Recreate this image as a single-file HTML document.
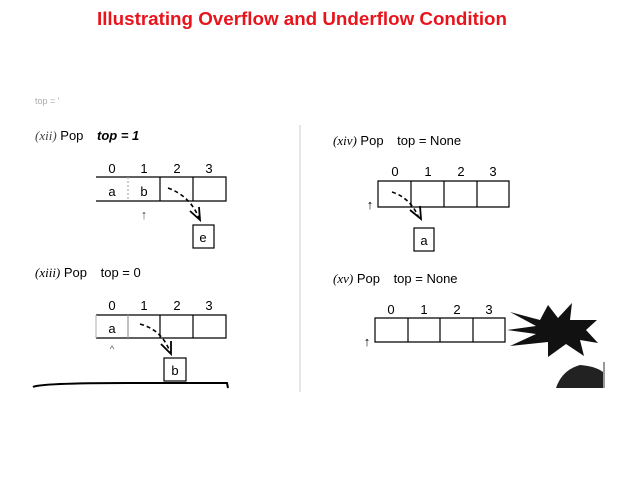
<!DOCTYPE html>
<html><head><style>
body{margin:0;background:#fff;}
svg{display:block;}
text{font-family:"Liberation Sans",sans-serif;}
.s{font-family:"Liberation Serif",serif;font-size:13px;}
.l{font-size:13px;}
</style></head><body>
<svg width="638" height="478" viewBox="0 0 638 478">
<text x="97" y="25" textLength="410" lengthAdjust="spacingAndGlyphs" fill="#e8141c" font-weight="bold" font-size="18">Illustrating Overflow and Underflow Condition</text>
<text x="35" y="104" font-size="9" fill="#aaa">top = '</text>
<line x1="300" y1="125" x2="300" y2="392" stroke="#ccc" stroke-width="1"/>
<g stroke="#000" stroke-width="1.2" fill="none">
 <path d="M96 177H226V201H96M160 177V201M193 177V201M226 177V201"/>
 <line x1="128" y1="177" x2="128" y2="201" stroke="#aaa" stroke-dasharray="2 2"/>
 <rect x="193" y="225" width="21" height="23"/>
 <path d="M168 188Q190 196 199 218" stroke-dasharray="4 3" stroke-width="1.6"/>
 <path d="M190 211L200 220L199 207" stroke-width="1.8"/>
 <path d="M96 315H226V338H96M160 315V338M193 315V338M226 315V338"/>
 <line x1="128" y1="315" x2="128" y2="338" stroke="#999"/>
 <line x1="96" y1="315" x2="96" y2="338" stroke="#bbb"/>
 <rect x="164" y="358" width="22" height="23"/>
 <path d="M140 324Q162 330 170 352" stroke-dasharray="4 3" stroke-width="1.6"/>
 <path d="M161 344L171 354L171 341" stroke-width="1.8"/>
 <path d="M33 387Q40 383 130 383T227 383L228 388" stroke-width="2"/>
 <path d="M378 181H509V207H378ZM411 181V207M444 181V207M477 181V207"/>
 <rect x="414" y="228" width="20" height="23"/>
 <path d="M392 192Q410 198 418 216" stroke-dasharray="4 3" stroke-width="1.6"/>
 <path d="M410 210L421 219L420 206" stroke-width="1.8"/>
 <path d="M375 318H505V342H375ZM408 318V342M440 318V342M473 318V342"/>
</g>
<g class="l" fill="#000">
 <text x="35" y="140"><tspan class="s" font-style="italic" fill="#444">(xii)</tspan> Pop <tspan dx="10" font-weight="bold" font-style="italic">top = 1</tspan></text>
 <text x="35" y="277"><tspan class="s" font-style="italic">(xiii)</tspan> Pop <tspan dx="10">top = 0</tspan></text>
 <text x="333" y="145"><tspan class="s" font-style="italic">(xiv)</tspan> Pop <tspan dx="10">top = None</tspan></text>
 <text x="333" y="283"><tspan class="s" font-style="italic">(xv)</tspan> Pop <tspan dx="10">top = None</tspan></text>
</g>
<g class="s" text-anchor="middle" fill="#000">
 <text x="112" y="173">0</text><text x="144" y="173">1</text><text x="177" y="173">2</text><text x="209" y="173">3</text>
 <text x="112" y="196">a</text><text x="144" y="196">b</text>
 <text x="144" y="219" fill="#555">↑</text>
 <text x="203" y="242">e</text>
 <text x="112" y="310">0</text><text x="144" y="310">1</text><text x="177" y="310">2</text><text x="209" y="310">3</text>
 <text x="112" y="333">a</text>
 <text x="112" y="352" font-size="9" fill="#555">^</text>
 <text x="175" y="375">b</text>
 <text x="395" y="176">0</text><text x="428" y="176">1</text><text x="461" y="176">2</text><text x="493" y="176">3</text>
 <text x="370" y="209">↑</text>
 <text x="424" y="245">a</text>
 <text x="391" y="314">0</text><text x="424" y="314">1</text><text x="457" y="314">2</text><text x="489" y="314">3</text>
 <text x="367" y="346">↑</text>
</g>
<polygon fill="#111" points="510,312 540,320 548,305 558,318 572,303 570,320 597,320 586,330 598,343 580,340 584,356 566,344 548,357 548,342 510,346 536,334 507,330 536,326"/>
<path fill="#222" d="M556 388Q562 370 580 365Q595 366 603 372V388Z"/>
<line x1="604" y1="362" x2="604" y2="388" stroke="#333"/>
</svg>
</body></html>
